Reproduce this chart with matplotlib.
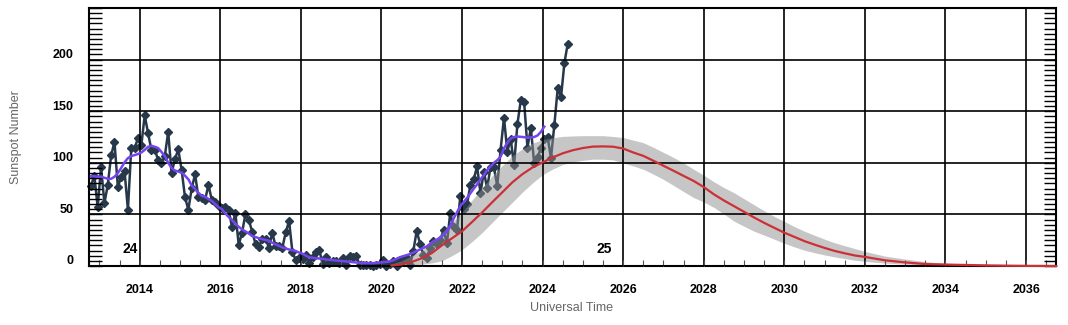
import numpy as np
import matplotlib.pyplot as plt
from matplotlib.ticker import MultipleLocator
from matplotlib.transforms import ScaledTranslation

plt.rcParams['font.family'] = ['Liberation Sans', 'DejaVu Sans']

# monthly observed sunspot number, first value = Oct 2012
observed = [
    77.7, 87.6, 56.8,
    96.1, 60.9, 78.6, 107.1, 120.2, 76.7, 86.2, 91.8, 54.5, 114.4, 113.9, 124.2,
    117.0, 146.1, 128.7, 112.5, 112.5, 102.9, 100.2, 106.9, 130.0, 90.0, 103.6, 112.9,
    93.0, 66.7, 54.5, 75.3, 88.8, 66.5, 65.8, 64.4, 78.6, 63.6, 62.2, 58.0,
    56.4, 57.0, 54.2, 37.9, 51.5, 20.5, 32.4, 50.2, 44.6, 33.4, 21.4, 18.5,
    26.1, 26.4, 17.7, 32.3, 18.9, 19.2, 17.8, 32.6, 43.6, 13.2, 5.7, 8.2,
    6.8, 10.7, 2.5, 8.9, 13.1, 15.6, 1.6, 8.7, 3.3, 4.9, 4.9, 3.1,
    7.7, 0.8, 9.4, 9.1, 9.9, 1.2, 0.9, 0.5, 1.1, 0.4, 0.5, 1.5,
    6.2, 0.2, 1.5, 5.2, 0.2, 5.8, 6.1, 7.5, 0.6, 14.4, 34.0, 21.8,
    10.4, 8.2, 17.2, 24.5, 21.2, 25.0, 34.6, 22.0, 51.3, 37.4, 34.8, 67.5,
    55.3, 59.9, 78.5, 84.1, 96.5, 70.5, 91.4, 75.4, 96.3, 95.5, 77.6, 112.8,
    143.6, 110.9, 123.3, 97.6, 137.4, 160.5, 159.1, 114.8, 133.6, 99.4, 105.4, 114.2,
    123.0, 124.7, 104.9, 136.5, 172.0, 163.8, 196.8, 215.5,
]

# smoothed sunspot number, first value = Oct 2012
smoothed = [
    87, 87, 86.5,
    86.5, 85.5, 84.5, 84.5, 86.5, 90, 95, 100.5, 104.5, 106.5, 107.5, 108.5,
    110, 112.5, 115.5, 116.5, 115.5, 114.3, 110.5, 106.5, 100, 95, 92.5, 91.5,
    90.5, 87.5, 84, 78, 74.5, 71, 68, 67, 65, 63, 60, 57,
    55, 51, 47.5, 44.5, 41, 38, 35.5, 33.5, 31.5, 29, 28, 27,
    26, 25.3, 24.5, 22.5, 21, 19.5, 18, 17, 16, 15.3, 14.5, 13,
    12, 10, 8.5, 8, 7.5, 7.2, 7, 6.3, 6, 5.7, 5.5, 5.2,
    4.8, 4.4, 4, 3.7, 3.4, 3, 2.8, 2.8, 2.8, 2.8, 3, 3.3,
    3.6, 4, 4.5, 5.5, 7, 8.5, 9.5, 10.5, 11.5, 13, 14.5, 16,
    17.5, 19, 21.5, 24, 25.5, 27.5, 30, 34, 39, 46, 52, 58,
    62, 66, 70.5, 75, 79, 84, 88, 93, 96.5, 100, 102.5, 106,
    114, 119.5, 123.5, 125, 125.5, 125.2, 124.8, 124.3, 124.5, 125, 126.5, 130,
    135,
]

# cycle 25 prediction (predicted value and range)
pred_years = [2020.25, 2020.5, 2020.75, 2021.0, 2021.25, 2021.5, 2021.75, 2022.0,
              2022.25, 2022.5, 2022.75, 2023.0, 2023.25, 2023.5, 2023.75, 2024.0,
              2024.25, 2024.5, 2024.75, 2025.0, 2025.25, 2025.5, 2025.75, 2026.0,
              2026.25, 2026.5, 2026.75, 2027.0, 2027.25, 2027.5, 2027.75, 2028.0,
              2028.25, 2028.5, 2028.75, 2029.0, 2029.25, 2029.5, 2029.75, 2030.0,
              2030.25, 2030.5, 2030.75, 2031.0, 2031.25, 2031.5, 2031.75, 2032.0,
              2032.5, 2033.0, 2033.5, 2034.0, 2034.5, 2035.0, 2035.5, 2036.0, 2036.75]
pred_mid = [0.5, 1.5, 3.9, 7.5, 12.5, 20, 26.8, 33.6,
            42.7, 51.9, 61.8, 71.4, 81.1, 89.0, 95.5, 100.4,
            105.2, 109.2, 112.2, 114.3, 115.7, 115.9, 115.6, 113.8,
            110.0, 106.7, 102.0, 97.1, 92.3, 87.3, 82.4, 76.5,
            69.5, 63.5, 58.0, 52.5, 47.0, 41.8, 37.0, 32.3,
            28.2, 24.1, 20.7, 17.5, 14.6, 12.3, 10.2, 8.8,
            5.5, 3.5, 1.9, 1.4, 1.0, 0.6, 0.3, 0.1, 0.0]
pred_hi = [2, 5, 10, 15, 23, 32.5, 42, 52,
           63.8, 75.6, 87.4, 97.3, 106.8, 113.6, 119, 122.4,
           124.3, 125.6, 126, 126.3, 126.3, 126.3, 125.5, 124.5,
           122, 119.5, 115, 110.1, 105.2, 99.8, 93.7, 88.0,
           81.7, 76, 71, 65.2, 59.3, 53.5, 48.1, 43.2,
           38.2, 33.7, 29.8, 26, 22.5, 19.7, 16.9, 14.1,
           9.6, 6.7, 4.2, 2.5, 1.7, 1.1, 0.6, 0.3, 0.1]
pred_lo = [0, 0.3, 0.8, 1.8, 3.0, 5, 10, 15.7,
           23.7, 32.4, 42.3, 52.1, 61.8, 71.6, 80.5, 88.4,
           93.9, 98.3, 100.9, 102.4, 103.5, 103.5, 102.8, 99.9,
           97, 93.7, 89, 83.9, 78.1, 72.1, 66.3, 62.0,
           56.8, 50.4, 43.5, 38.5, 33.7, 29.9, 26, 22,
           18.5, 15.3, 12.9, 10.7, 8.8, 7.2, 5.6, 4.5,
           2.8, 1.9, 1.2, 0.6, 0.3, 0.2, 0.1, 0, 0]

# mid-month positions in decimal years
obs_t = 2012 + (9 + np.arange(len(observed)) + 0.5) / 12
smo_t = 2012 + (9 + np.arange(len(smoothed)) + 0.5) / 12

fig = plt.figure(figsize=(10.68, 3.25), dpi=100)
ax = fig.add_axes([89.3 / 1068, 59 / 325, 967 / 1068, 258 / 325])

ax.plot(obs_t, observed, color='#27384a', lw=1.8, marker='D', markersize=4.5,
        zorder=1.5, clip_on=False)
ax.fill_between(pred_years, pred_lo, pred_hi, color='#8f8f8f', alpha=0.5,
                linewidth=0, zorder=2)
ax.plot(smo_t, smoothed, color='#7444f0', lw=1.8, zorder=3)
ax.plot(pred_years, pred_mid, color='#cc3036', lw=1.6, zorder=3, clip_on=False)

ax.set_xlim(2012.75, 2036.75)
ax.set_ylim(0, 250)
ax.set_axisbelow(False)

ax.set_xticks(range(2014, 2037, 2))
ax.xaxis.set_minor_locator(MultipleLocator(0.5))
ax.set_yticks([0, 50, 100, 150, 200])
ax.yaxis.set_minor_locator(MultipleLocator(5))

ax.tick_params(axis='x', which='both', direction='in', length=4.5, width=0.8,
               color='#555555', top=False, pad=13)
ax.tick_params(axis='y', which='both', direction='in', length=9, width=1.0,
               left=True, right=True, pad=11.5)
ax.grid(True, which='major', color='black', linewidth=1.2)
for sp in ax.spines.values():
    sp.set_linewidth(1.5)

for lab in ax.get_xticklabels():
    lab.set_fontweight('bold')
    lab.set_fontsize(9)
shift = ScaledTranslation(0, 6 / 100, fig.dpi_scale_trans)
for lab in ax.get_yticklabels():
    lab.set_fontweight('bold')
    lab.set_fontsize(9)
    lab.set_transform(lab.get_transform() + shift)

ax.text(2013.76, 16, '24', fontsize=10, fontweight='bold', ha='center', va='center')
ax.text(2025.52, 16, '25', fontsize=10, fontweight='bold', ha='center', va='center')

fig.text(572 / 1068, 1 - 308 / 325, 'Universal Time', color='#666666', fontsize=9,
         ha='center', va='center')
fig.text(16 / 1068, 1 - 137 / 325, 'Sunspot Number', color='#666666', fontsize=9,
         ha='center', va='center', rotation=90)

fig.savefig('out.png', dpi=100)
